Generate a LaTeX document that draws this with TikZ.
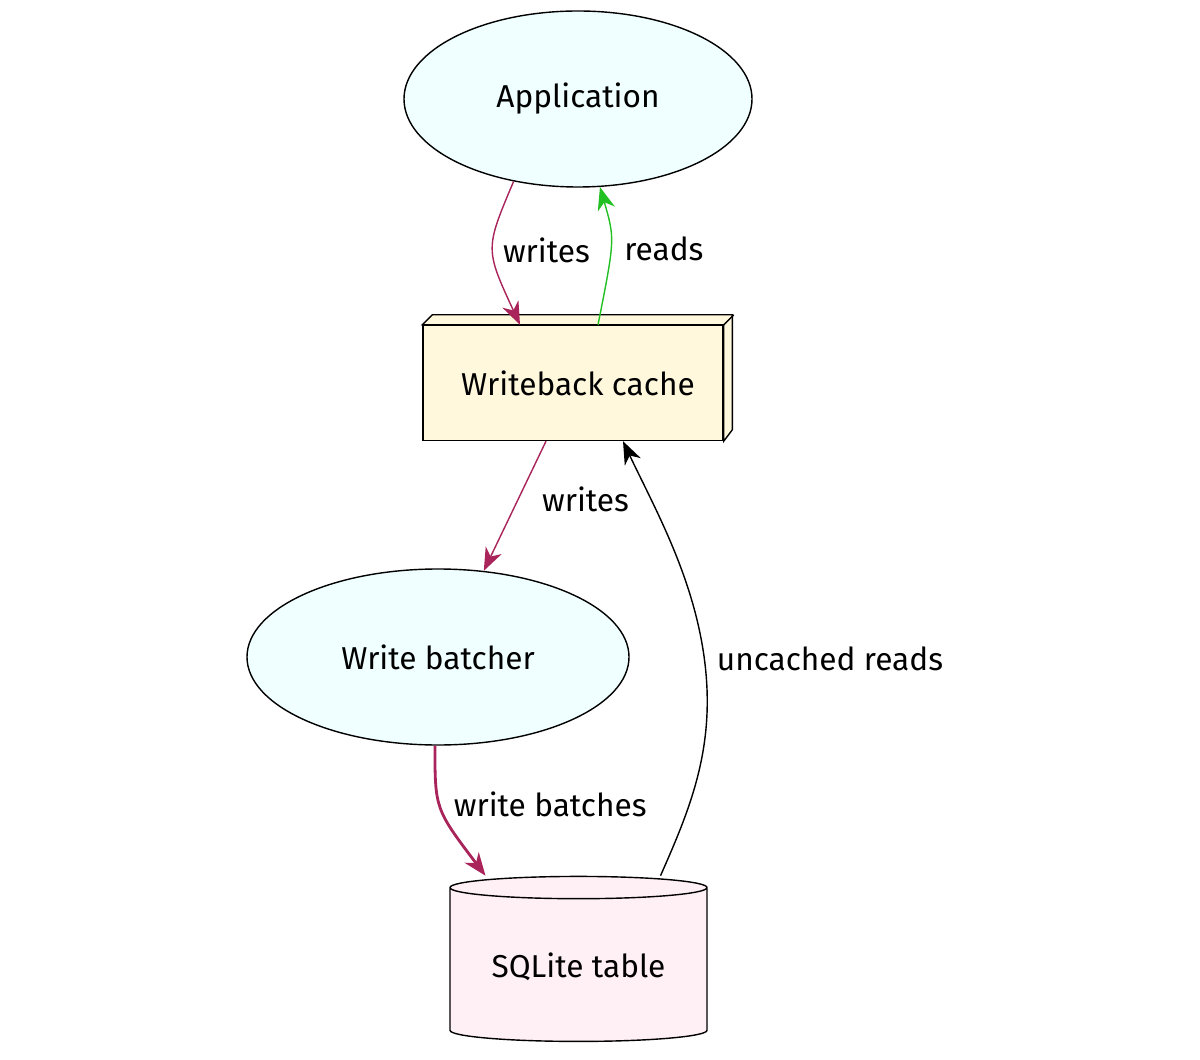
\documentclass[tikz,border=0pt]{standalone}
\usepackage{fontspec}
\setmainfont{Fira Sans}
\usetikzlibrary{shapes.geometric,arrows.meta}
\definecolor{appfill}{HTML}{F0FFFF}
\definecolor{cachefill}{HTML}{FFF8DC}
\definecolor{sqlfill}{HTML}{FFF0F5}
\definecolor{wred}{HTML}{A8245A}
\definecolor{rgreen}{HTML}{22C022}
\tikzset{proc/.style={ellipse, draw, thick, fill=appfill, font=\fontsize{18}{21}\selectfont},
  store/.style={draw, thick, font=\fontsize{18}{21}\selectfont},
  lbl/.style={right, font=\fontsize{18}{21}\selectfont, text=black},
  flow/.style={thick, -{Stealth[length=13pt,width=10pt,inset=4pt]}}
}

\begin{document}
\begin{tikzpicture}
	\useasboundingbox (0,0) rectangle (24,21.18);
		\node[proc, minimum width=6.96cm, minimum height=3.52cm] (app) at (11.56,19.2) {Application};
		\node[store, fill=cachefill, minimum width=6cm, minimum height=2.3cm] (cache) at (11.46,13.52) {\hspace{0.2cm}Writeback cache};
		\draw[thick, fill=cachefill] (cache.north west) -- ++(0.2,0.2) -- ++(6,0) -- ++(0,-2.3) -- (cache.south east) -- (cache.north east) -- cycle;
		\draw[thick] (cache.north east) -- ++(0.2,0.2);
		\node[proc, minimum width=7.64cm, minimum height=3.52cm] (batcher) at (8.76,8.04) {Write batcher};
		\node[store, cylinder, shape border rotate=90, aspect=0.12, fill=sqlfill, minimum width=5.14cm, minimum height=3.3cm] (sql) at (11.57,1.85) {SQLite table};
		% edges
		\draw[flow, wred] (app.232) .. controls (9.7,16.2) .. ([xshift=-1.06cm]cache.north) node[lbl, pos=0.5, xshift=2pt] {writes};
		\draw[flow, rgreen] ([xshift=0.5cm]cache.north) .. controls (12.3,16.4) .. (app.284) node[lbl, pos=0.45, xshift=4pt] {reads};
		\draw[flow, wred] ([xshift=-0.54cm]cache.south) -- (batcher.62) node[lbl, pos=0.45, xshift=10pt] {writes};
		\draw[flow, wred, line width=1.6pt] (batcher.268) .. controls (8.7,5.0) .. ([xshift=-1.86cm]sql.north) node[lbl, pos=0.45, xshift=4pt] {write batches};
		\draw[flow] ([xshift=1.64cm]sql.north) .. controls (13.8,5.0) and (14.3,6.2) .. (14.1,7.9) .. controls (13.9,9.6) and (13.1,11.0) .. ([xshift=1.0cm]cache.south) node[lbl, pos=0.0, xshift=3pt, yshift=3pt] {uncached reads};
\end{tikzpicture}
\end{document}
